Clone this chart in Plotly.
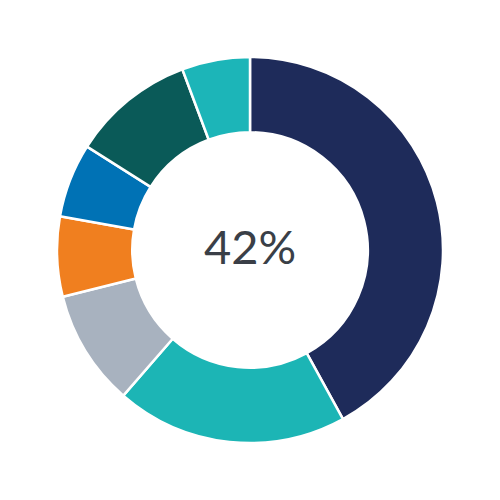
import plotly.graph_objects as go

labels = ["A", "B", "C", "D", "E", "F", "G"]
values = [42, 19.4, 9.7, 6.7, 6.2, 10.3, 5.7]
colors = ["#1e2b5a", "#1cb5b5", "#a8b2bf", "#f07f1f", "#0072b5", "#0a5a58", "#1cb5b8"]
center_text = "42%"

fig = go.Figure(go.Pie(
    labels=labels,
    values=values,
    hole=0.61,
    sort=False,
    direction="clockwise",
    rotation=0,
    marker=dict(colors=colors, line=dict(color="white", width=2.5)),
    textinfo="none",
    hoverinfo="none",
    showlegend=False,
))
fig.add_annotation(text=center_text, x=0.5, y=0.5, xref="paper", yref="paper",
                   showarrow=False, yshift=4,
                   font=dict(family="Lato", size=47, color="#3a3f47"))
fig.update_layout(width=500, height=500, margin=dict(l=49, r=65, t=49, b=65),
                  paper_bgcolor="white", plot_bgcolor="white")
fig.write_html("out.html")
